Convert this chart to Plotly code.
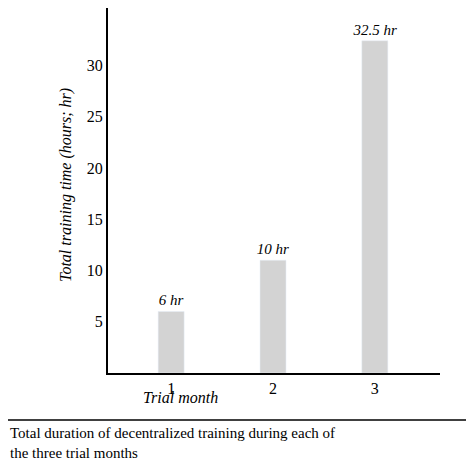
import plotly.graph_objects as go

months = [1, 2, 3]
hours = [6, 11, 32.4]
labels = ["6 hr", "10 hr", "32.5 hr"]
y_ticks = [5, 10, 15, 20, 25, 30, 35]

F = "Liberation Serif"
O = 8  # page offset
H = 474
fig = go.Figure(go.Bar(x=months, y=hours, width=0.255, marker_color="#d3d3d3",
                       text=labels, textposition="outside", cliponaxis=False,
                       constraintext="none",
                       textfont=dict(family=F, size=15, color="black"),
                       texttemplate="<i>%{text}</i>"))
fig.update_layout(
    width=H, height=H, margin=dict(l=0, r=0, t=0, b=0),
    plot_bgcolor="white", paper_bgcolor="white", showlegend=False,
    font=dict(family=F, size=15, color="black"),
    xaxis=dict(domain=[(108-O)/H, (440-O)/H], range=[0.38, 3.64], tickvals=months,
               showline=True, linecolor="black", linewidth=2, showgrid=False,
               zeroline=False, ticks="", tickfont=dict(family=F, size=16, color="black")),
    yaxis=dict(domain=[(H-(373-O))/H, 1], range=[0, 35.6], tickvals=y_ticks,
               showline=True, linecolor="black", linewidth=2, showgrid=False,
               zeroline=False, ticks="", tickfont=dict(family=F, size=16, color="black")),
    shapes=[dict(type="line", xref="paper", yref="paper", x0=0, x1=1,
                 y0=(H-(420-O))/H, y1=(H-(420-O))/H, line=dict(color="black", width=1.5))],
    annotations=[
        dict(text="<i>Trial month</i>", xref="paper", yref="paper", x=(180-O)/H, y=(H-(408-O))/H,
             showarrow=False, font=dict(family=F, size=16)),
        dict(text="<i>Total training time (hours; hr)</i>", xref="paper", yref="paper",
             x=(55-O)/H, y=(H-(185-O))/H, textangle=-90, showarrow=False, font=dict(family=F, size=16)),
        dict(text="Total duration of decentralized training during each of<br>the three trial months",
             xref="paper", yref="paper", x=0, y=(H-(423-O))/H, xanchor="left", yanchor="top",
             align="left", showarrow=False, font=dict(family=F, size=15)),
    ],
)
fig.write_html("out.html")
